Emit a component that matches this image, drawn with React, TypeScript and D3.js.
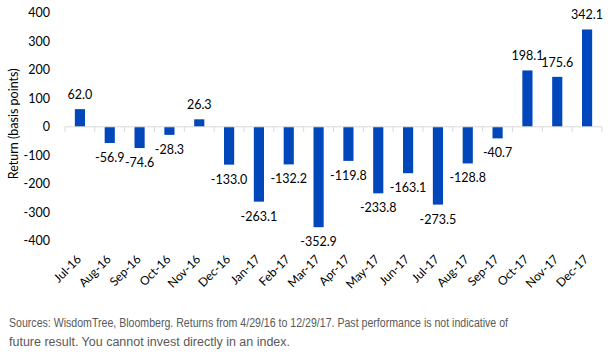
import React from "react";
import * as d3 from "d3";

const categories = ["Jul-16","Aug-16","Sep-16","Oct-16","Nov-16","Dec-16","Jan-17","Feb-17","Mar-17","Apr-17","May-17","Jun-17","Jul-17","Aug-17","Sep-17","Oct-17","Nov-17","Dec-17"];
const values = [62.0,-56.9,-74.6,-28.3,26.3,-133.0,-263.1,-132.2,-352.9,-119.8,-233.8,-163.1,-273.5,-128.8,-40.7,198.1,175.6,342.1];
const yTicks = [400,300,200,100,0,-100,-200,-300,-400];
const yTitle = "Return (basis points)";
const sourceLines = [
  "Sources: WisdomTree, Bloomberg. Returns from 4/29/16 to 12/29/17. Past performance is not indicative of",
  "future result. You cannot invest directly in an index."
];

const W = 615, H = 358;
const FONT = "Lato, 'Open Sans', sans-serif";

export default function App() {
  const x = d3.scaleBand<string>().domain(categories).range([65, 602]).paddingInner(0.66).paddingOuter(0.33);
  const y = d3.scaleLinear().domain([-400, 400]).range([240.6, 13]);
  const step = x.step();
  const left = 65;
  const bounds = d3.range(categories.length + 1).map(i => left + i * step);
  return (
    <svg width={W} height={H} style={{ position: "absolute", left: 0, top: 0, background: "#fff" }}>
      {yTicks.map(t => (
        <text key={t} x={50} y={y(t)} dy="0.35em" textAnchor="end" fontFamily={FONT} fontSize={12.5} fill="#000">{t}</text>
      ))}
      <text transform={`translate(14,${y(0) - 3}) rotate(-90)`} textAnchor="middle" dy="0.35em" fontFamily={FONT} fontSize={12.5} fill="#000">{yTitle}</text>
      {categories.map((c, i) => {
        const v = values[i];
        const y0 = y(0), y1 = y(v);
        return (
          <rect key={c} x={x(c)} width={x.bandwidth()} y={Math.min(y0, y1)} height={Math.abs(y1 - y0)} fill="#0047bb" />
        );
      })}
      <line x1={left} x2={602} y1={y(0)} y2={y(0)} stroke="#d9d9d9" strokeWidth={1} />
      {bounds.map((b, i) => (
        <line key={i} x1={b} x2={b} y1={y(0)} y2={y(0) + 5} stroke="#d9d9d9" strokeWidth={1} />
      ))}
      {categories.map((c, i) => {
        const v = values[i];
        const cx = (x(c) as number) + x.bandwidth() / 2;
        const ly = v >= 0 ? y(v) - 10 : y(v) + 19;
        return (
          <text key={c} x={cx} y={ly} textAnchor="middle" fontFamily={FONT} fontSize={12.5} fill="#000">{v.toFixed(1)}</text>
        );
      })}
      {categories.map((c) => {
        const cx = (x(c) as number) + x.bandwidth() / 2;
        return (
          <text key={c} transform={`translate(${cx + 2},${260}) rotate(-45)`} textAnchor="end" fontFamily={FONT} fontSize={12} fill="#000">{c}</text>
        );
      })}
      <text x={9} y={327} fontFamily="'Liberation Sans', Arial, sans-serif" fontSize={12.5} fill="#595959" textLength={499} lengthAdjust="spacingAndGlyphs">{sourceLines[0]}</text>
      <text x={9} y={346} fontFamily="'Liberation Sans', Arial, sans-serif" fontSize={12.5} fill="#595959" textLength={281} lengthAdjust="spacingAndGlyphs">{sourceLines[1]}</text>
    </svg>
  );
}
